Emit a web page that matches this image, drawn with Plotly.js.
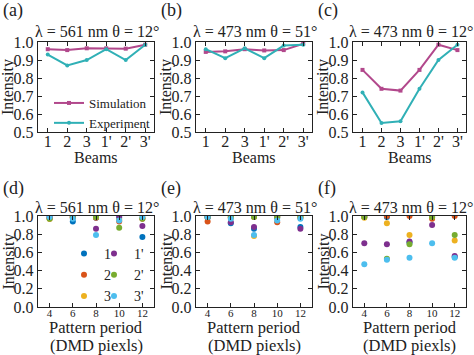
<!DOCTYPE html>
<html><head><meta charset="utf-8">
<script src="https://cdn.plot.ly/plotly-3.0.1.min.js"></script>
<style>body{margin:0;padding:0;background:#fff}#chart{width:474px;height:355px}</style>
</head><body><div id="chart"></div>
<script>
// ---- data ----
const beams = ["1", "2", "3", "1'", "2'", "3'"];
const simA = [0.960, 0.955, 0.965, 0.965, 0.963, 0.985];
const expA = [0.930, 0.870, 0.900, 0.960, 0.900, 0.985];
const simB = [0.945, 0.948, 0.960, 0.953, 0.955, 0.990];
const expB = [0.960, 0.910, 0.965, 0.910, 0.980, 0.985];
const simC = [0.845, 0.740, 0.730, 0.845, 0.985, 0.955];
const expC = [0.720, 0.550, 0.560, 0.740, 0.900, 0.985];

const periods = [4, 6, 8, 10, 12];
const beamNames = ["1", "2", "3", "1'", "2'", "3'"];
const dVals = [
  [0.98, 0.94, 0.98, 0.98, 0.77],
  [0.97, 0.98, 0.98, 0.94, 0.97],
  [0.97, 0.99, 0.99, 0.96, 0.98],
  [0.99, 0.99, 0.86, 1.00, 0.89],
  [0.97, 0.99, 0.99, 0.87, 0.97],
  [0.99, 0.97, 0.79, 0.95, 0.99]
];
const eVals = [
  [0.98, 0.92, 0.86, 0.98, 0.88],
  [0.94, 0.98, 0.99, 0.93, 0.98],
  [0.99, 0.99, 0.78, 0.99, 0.99],
  [0.99, 0.93, 0.88, 1.00, 0.86],
  [0.99, 0.99, 0.99, 0.99, 0.99],
  [0.99, 0.97, 0.79, 0.95, 0.97]
];
const fVals = [
  [0.99, 0.99, 0.71, 0.99, 0.55],
  [0.99, 1.00, 1.00, 0.97, 1.00],
  [0.98, 0.92, 0.79, 0.99, 0.73],
  [0.70, 0.69, 0.72, 0.90, 0.56],
  [0.99, 0.53, 0.69, 0.99, 0.79],
  [0.47, 0.52, 0.54, 0.70, 0.54]
];
const panelTitles = ["λ = 561 nm θ = 12°", "λ = 473 nm θ = 51°", "λ = 473 nm θ = 12°"];
const panelLabels = ["(a)", "(b)", "(c)", "(d)", "(e)", "(f)"];

// ---- style ----
const W = 474, H = 355;
const simColor = "rgb(178,72,140)";
const expColor = "rgb(48,176,182)";
const beamColors = ["rgb(0,114,189)", "rgb(217,83,25)", "rgb(237,177,32)",
                    "rgb(126,47,142)", "rgb(119,172,48)", "rgb(77,190,238)"];
const FONT = "Liberation Serif, Times New Roman, serif";
const colPx = [[38, 154], [196, 312], [353, 466]];
const rowPx = [[42, 132], [216, 307]];
const titleY = [32, 207];
const labelY = [11, 188];
const px2x = p => p / W;
const px2y = p => 1 - p / H;
const beamPos = beams.map((_, k) => k + 1);

const traces = [];
const lineData = [[simA, expA], [simB, expB], [simC, expC]];
lineData.forEach((pair, i) => {
  const ax = i === 0 ? "" : String(i + 1);
  traces.push({x: beamPos, y: pair[0], xaxis: "x" + ax, yaxis: "y" + ax,
    type: "scatter", mode: "lines+markers", name: "Simulation", showlegend: i === 0,
    line: {color: simColor, width: 2}, marker: {symbol: "square", size: 4, color: simColor}});
  traces.push({x: beamPos, y: pair[1], xaxis: "x" + ax, yaxis: "y" + ax,
    type: "scatter", mode: "lines+markers", name: "Experiment", showlegend: i === 0,
    line: {color: expColor, width: 2}, marker: {symbol: "circle", size: 4, color: expColor}});
  // invisible carrier so the label axis is drawn
  traces.push({x: beamPos, y: pair[0], xaxis: "x" + (i + 7), yaxis: "y" + ax,
    type: "scatter", mode: "none", showlegend: false, hoverinfo: "skip"});
});
[dVals, eVals, fVals].forEach((vals, i) => {
  const ax = String(i + 4);
  vals.forEach((ys, b) => {
    traces.push({x: periods, y: ys, xaxis: "x" + ax, yaxis: "y" + ax, type: "scatter",
      mode: "markers", name: beamNames[b], showlegend: i === 0,
      legend: b < 3 ? "legend2" : "legend3",
      marker: {size: 6, color: beamColors[b]}});
  });
  traces.push({x: periods, y: vals[0], xaxis: "x" + (i + 10), yaxis: "y" + ax,
    type: "scatter", mode: "none", showlegend: false, hoverinfo: "skip"});
});

const layout = {
  width: W, height: H, margin: {l: 0, r: 0, t: 0, b: 0},
  paper_bgcolor: "#fff", plot_bgcolor: "#fff",
  font: {family: FONT, size: 16, color: "#222"},
  showlegend: true,
  legend: {x: px2x(156), y: px2y(138), xanchor: "right", yanchor: "bottom",
    bgcolor: "rgba(0,0,0,0)", font: {size: 13, family: FONT}, tracegroupgap: 0, itemwidth: 30},
  legend2: {x: px2x(64), y: px2y(312), xanchor: "left", yanchor: "bottom",
    bgcolor: "rgba(0,0,0,0)", font: {size: 14, family: FONT}, itemwidth: 30},
  legend3: {x: px2x(94), y: px2y(312), xanchor: "left", yanchor: "bottom",
    bgcolor: "rgba(0,0,0,0)", font: {size: 14, family: FONT}, itemwidth: 30},
  annotations: []
};

for (let r = 0; r < 2; r++) {
  for (let c = 0; c < 3; c++) {
    const n = r * 3 + c + 1;
    const xa = n === 1 ? "xaxis" : "xaxis" + n;
    const ya = n === 1 ? "yaxis" : "yaxis" + n;
    const xId = n === 1 ? "x" : "x" + n;
    const common = {showline: true, linecolor: "#222", linewidth: 1.3, mirror: "ticks",
      ticks: "inside", ticklen: 4, tickcolor: "#222", showgrid: false, zeroline: false,
      tickfont: {family: FONT, size: 16, color: "#222"}};
    layout[xa] = Object.assign({}, common, {
      domain: [px2x(colPx[c][0]), px2x(colPx[c][1])],
      anchor: n === 1 ? "y" : "y" + n, showticklabels: false
    });
    layout[ya] = Object.assign({}, common, {
      domain: [px2y(rowPx[r][1]), px2y(rowPx[r][0])],
      anchor: n === 1 ? "x" : "x" + n, tickformat: ".1f"
    });
    // label-only axis overlaying the x axis, placed a little higher
    const lab = {overlaying: xId, anchor: "free", showline: false, ticks: "",
      showgrid: false, zeroline: false, side: "bottom"};
    if (r === 0) {
      Object.assign(layout[xa], {range: [0.5, 6.45], tickmode: "array",
        tickvals: beamPos, ticktext: beams});
      Object.assign(lab, {range: [0.5, 6.45], tickmode: "array",
        tickvals: beamPos, ticktext: beams, position: px2y(rowPx[r][1] - 2),
        tickfont: {family: FONT, size: 16, color: "#222"}});
      Object.assign(layout[ya], {range: [0.5, 1.0], dtick: 0.1});
    } else {
      Object.assign(layout[xa], {range: [3, 13], tickvals: periods});
      Object.assign(lab, {range: [3, 13], tickmode: "array", tickvals: periods,
        position: px2y(rowPx[r][1] - 2),
        tickfont: {family: FONT, size: 11, color: "#222"}});
      Object.assign(layout[ya], {range: [0, 1.0], dtick: 0.2});
    }
    layout["xaxis" + (n + 6)] = lab;
    const cx = (colPx[c][0] + colPx[c][1]) / 2;
    const top = rowPx[r][0], bot = rowPx[r][1];
    // panel title
    layout.annotations.push({xref: "paper", yref: "paper", x: px2x(cx + 1), y: px2y(titleY[r]),
      xanchor: "center", yanchor: "middle", showarrow: false,
      text: panelTitles[c], font: {size: 16, family: FONT, color: "#222"}});
    // panel label
    layout.annotations.push({xref: "paper", yref: "paper", x: px2x(colPx[c][0] - 37), y: px2y(labelY[r]),
      xanchor: "left", yanchor: "middle", showarrow: false,
      text: panelLabels[n - 1], font: {size: 18, family: FONT, color: "#222"}});
    // y title
    layout.annotations.push({xref: "paper", yref: "paper", x: px2x(colPx[c][0] - 30), y: px2y((top + bot) / 2),
      xanchor: "center", yanchor: "middle", showarrow: false, textangle: -90,
      text: "Intensity", font: {size: 16, family: FONT, color: "#222"}});
    // x title
    if (r === 0) {
      layout.annotations.push({xref: "paper", yref: "paper", x: px2x(cx), y: px2y(157),
        xanchor: "center", yanchor: "middle", showarrow: false,
        text: "Beams", font: {size: 16, family: FONT, color: "#222"}});
    } else {
      layout.annotations.push({xref: "paper", yref: "paper", x: px2x(cx), y: px2y(327),
        xanchor: "center", yanchor: "middle", showarrow: false,
        text: "Pattern period", font: {size: 16.5, family: FONT, color: "#222"}});
      layout.annotations.push({xref: "paper", yref: "paper", x: px2x(cx), y: px2y(345),
        xanchor: "center", yanchor: "middle", showarrow: false,
        text: "(DMD piexls)", font: {size: 16.5, family: FONT, color: "#222"}});
    }
  }
}

Plotly.newPlot("chart", traces, layout, {displayModeBar: false, staticPlot: true});
</script>
</body></html>
